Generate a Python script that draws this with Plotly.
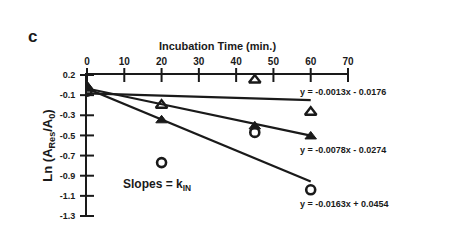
import plotly.graph_objects as go

# ---- data ----
time_min = [0, 20, 45, 60]
open_tri = [-0.03, -0.20, 0.05, -0.27]
filled_tri = [-0.01, -0.35, -0.41, -0.51]
open_circ = [-0.06, -0.77, -0.47, -1.04]

# trend lines as drawn in the picture (slope, intercept), plotted over 0..60 min
fit_slopes = [-0.0011, -0.0078, -0.0154]
fit_intercepts = [-0.083, -0.034, -0.034]
fit_range = [0, 60]
eq_labels = ["y = -0.0013x - 0.0176", "y = -0.0078x - 0.0274", "y = -0.0163x + 0.0454"]
eq_pos_y = [-0.07, -0.645, -1.18]

x_ticks = [0, 10, 20, 30, 40, 50, 60, 70]
y_ticks = [0.1, -0.1, -0.3, -0.5, -0.7, -0.9, -1.1, -1.3]
y_ticktext = ["0.2", "-0.1", "-0.3", "-0.5", "-0.7", "-0.9", "-1.1", "-1.3"]

INK = "#1a1a1a"
FONT = "Liberation Sans"

fig = go.Figure()

# trend lines
for s, b in zip(fit_slopes, fit_intercepts):
    fig.add_trace(go.Scatter(
        x=fit_range, y=[b + s * t for t in fit_range], mode="lines",
        line=dict(color=INK, width=2.2), showlegend=False, hoverinfo="skip"))

# data markers
fig.add_trace(go.Scatter(x=time_min, y=open_tri, mode="markers", showlegend=False,
                         marker=dict(symbol="triangle-up-open", size=10, color=INK, line=dict(width=2.4, color=INK))))
fig.add_trace(go.Scatter(x=time_min, y=filled_tri, mode="markers", showlegend=False,
                         marker=dict(symbol="triangle-up", size=10, color=INK, line=dict(width=1, color=INK))))
fig.add_trace(go.Scatter(x=time_min, y=open_circ, mode="markers", showlegend=False,
                         marker=dict(symbol="circle-open", size=9, color=INK, line=dict(width=2.6, color=INK))))

# crossing tick marks
fig.add_trace(go.Scatter(x=x_ticks, y=[y_ticks[0]] * len(x_ticks), mode="markers", showlegend=False,
                         hoverinfo="skip", cliponaxis=False,
                         marker=dict(symbol="line-ns", size=10, line=dict(width=2, color=INK))))
fig.add_trace(go.Scatter(x=[0] * len(y_ticks), y=y_ticks, mode="markers", showlegend=False,
                         hoverinfo="skip", cliponaxis=False,
                         marker=dict(symbol="line-ew", size=10, line=dict(width=2, color=INK))))

for txt, yy in zip(eq_labels, eq_pos_y):
    fig.add_annotation(x=56.5, y=yy, xref="x", yref="y", text="<b>" + txt + "</b>",
                       showarrow=False, xanchor="left", yanchor="middle",
                       font=dict(size=9, color=INK, family=FONT))

fig.add_annotation(x=9, y=-0.99, xref="x", yref="y", text="<b>Slopes = k<sub>IN</sub></b>",
                   showarrow=False, xanchor="left", yanchor="middle",
                   font=dict(size=12, color=INK, family=FONT))

fig.add_annotation(x=-0.21, y=1.27, xref="paper", yref="paper", text="<b>c</b>",
                   showarrow=False, xanchor="center", yanchor="middle",
                   font=dict(size=17, color=INK, family=FONT))

fig.update_layout(
    width=474, height=251,
    margin=dict(l=87, r=126, t=75, b=35),
    paper_bgcolor="white", plot_bgcolor="white",
    font=dict(family=FONT, color=INK),
    xaxis=dict(range=[0, 70], side="top", tickvals=x_ticks,
               ticktext=["<b>%d</b>" % v for v in x_ticks],
               tickfont=dict(size=10, color=INK), ticks="", showgrid=False, zeroline=False,
               showline=True, linecolor=INK, linewidth=2, ticklabelstandoff=4,
               title=dict(text="<b>Incubation Time (min.)</b>", font=dict(size=11, color=INK), standoff=3)),
    yaxis=dict(range=[-1.3, 0.1], tickvals=y_ticks,
               ticktext=["<b>%s</b>" % t for t in y_ticktext],
               tickfont=dict(size=9, color=INK), ticks="", showgrid=False, zeroline=False,
               showline=True, linecolor=INK, linewidth=2, ticklabelstandoff=8,
               title=dict(text="<b>Ln (A<sub>Res</sub>/A<sub>0</sub>)</b>", font=dict(size=13, color=INK), standoff=4)),
)

fig.write_html("out.html")
